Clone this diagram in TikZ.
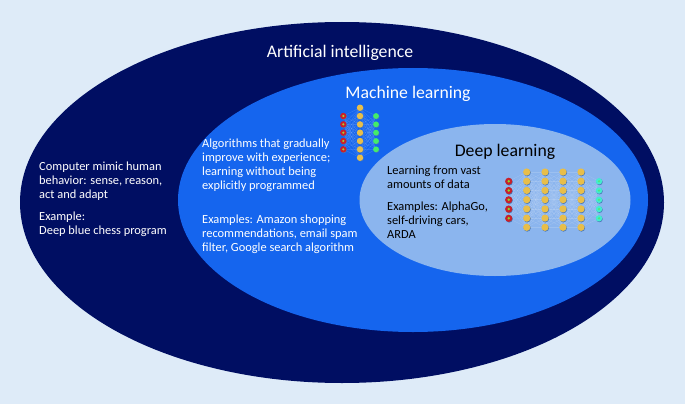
\documentclass[tikz,border=0pt]{standalone}
\usepackage{fontspec}
\setmainfont{Carlito}
\definecolor{pagebg}{HTML}{DEEBF8}
\definecolor{aiblue}{HTML}{000E62}
\definecolor{mlblue}{HTML}{1565EE}
\definecolor{dlblue}{HTML}{8BB5EE}
\definecolor{redunit}{HTML}{C8202A}
\definecolor{yellowunit}{HTML}{E8BE4A}
\definecolor{greenunit}{HTML}{6FE0B0}
\definecolor{unitshade}{HTML}{4A78B8}
\tikzset{
    caption/.style={anchor=north west, align=left, inner sep=0pt, font=\fontsize{12.4}{13.9}\selectfont},
    heading/.style={inner sep=0pt, font=\fontsize{17.7}{20}\selectfont},
    link/.style={white, opacity=0.15, line width=0.35pt}
}
\begin{document}
\begin{tikzpicture}[x=1pt,y=-1pt]
    % Background
    \fill[pagebg] (0,0) rectangle (685,404);
    \useasboundingbox (0,0) rectangle (685,404);

    % Nested regions
    \fill[aiblue] (342,202.5) ellipse [x radius=322, y radius=180.5];
    \fill[mlblue] (413,200) ellipse [x radius=235, y radius=132];
    \fill[dlblue] (495,200) ellipse [x radius=135.5, y radius=76];

    % Headings
    \node[heading, text=white] (aititle) at (340,53) {Artificial intelligence};
    \node[heading, text=white] (mltitle) at (408,94) {Machine learning};
    \node[heading, text=black] (dltitle) at (505,151.5) {Deep learning};

    % Captions
    \node[caption, text=white] (aitext) at (39,162) {Computer mimic human\\behavior: sense, reason,\\act and adapt\\[8pt]Example:\\Deep blue chess program};
    \node[caption, text=white] (mltext) at (202,139) {Algorithms that gradually\\improve with experience;\\learning without being\\explicitly programmed\\[20pt]Examples: Amazon shopping\\recommendations, email spam\\filter, Google search algorithm};
    \node[caption, text=black] (dltext) at (387,166) {Learning from vast\\amounts of data\\[8pt]Examples: AlphaGo,\\self-driving cars,\\ARDA};

    % Small network
    \foreach \i in {1,...,5} \coordinate (sr\i) at (343.3,{116+8.33*(\i-1)});
    \foreach \i in {1,...,7} \coordinate (sy\i) at (360,{107.7+8.33*(\i-1)});
    \foreach \i in {1,...,5} \coordinate (sg\i) at (376,{116+8.33*(\i-1)});
    \foreach \i in {1,...,5} \foreach \j in {1,...,7} {
        \draw[link] (sr\i) -- (sy\j);
        \draw[link] (sg\i) -- (sy\j);
    }
    \foreach \i in {1,...,5} {
        \fill[unitshade] ([shift={(0.5,0.6)}]sr\i) circle (3.2);
        \fill[redunit] (sr\i) circle (3.2);
        \fill[yellowunit!70!green] (sr\i) circle (1.2);
        \fill[unitshade] ([shift={(0.5,0.6)}]sg\i) circle (2.9);
        \fill[greenunit!60!green] (sg\i) circle (2.9);
    }
    \foreach \i in {1,...,7} {
        \fill[unitshade] ([shift={(0.5,0.6)}]sy\i) circle (3.2);
        \fill[yellowunit] (sy\i) circle (3.2);
    }

    % Large network
    \foreach \i in {1,...,5} \coordinate (br\i) at (508.7,{181.3+9.25*(\i-1)});
    \foreach \i in {1,...,5} \coordinate (bg\i) at (599,{181.3+9.25*(\i-1)});
    \foreach \c/\x in {a/526.7,b/545,c/563,d/581}
        \foreach \j in {1,...,7} \coordinate (b\c\j) at (\x,{172+9.22*(\j-1)});
    \foreach \j in {1,...,7} \foreach \k in {1,...,7} {
        \draw[link] (ba\j) -- (bb\k);
        \draw[link] (bb\j) -- (bc\k);
        \draw[link] (bc\j) -- (bd\k);
    }
    \foreach \i in {1,...,5} \foreach \k in {1,...,7} {
        \draw[link] (br\i) -- (ba\k);
        \draw[link] (bg\i) -- (bd\k);
    }
    \foreach \i in {1,...,5} {
        \fill[unitshade] ([shift={(0.5,0.7)}]br\i) circle (3.6);
        \fill[redunit] (br\i) circle (3.6);
        \fill[yellowunit!60!green] (br\i) circle (1.4);
        \fill[unitshade] ([shift={(0.5,0.7)}]bg\i) circle (3.2);
        \fill[greenunit!60!cyan] (bg\i) circle (3.2);
        \fill[greenunit!70!green] (bg\i) circle (1.3);
    }
    \foreach \c in {a,b,c,d} \foreach \j in {1,...,7} {
        \fill[unitshade] ([shift={(0.5,0.7)}]b\c\j) circle (3.6);
        \fill[yellowunit] (b\c\j) circle (3.6);
    }
\end{tikzpicture}
\end{document}
